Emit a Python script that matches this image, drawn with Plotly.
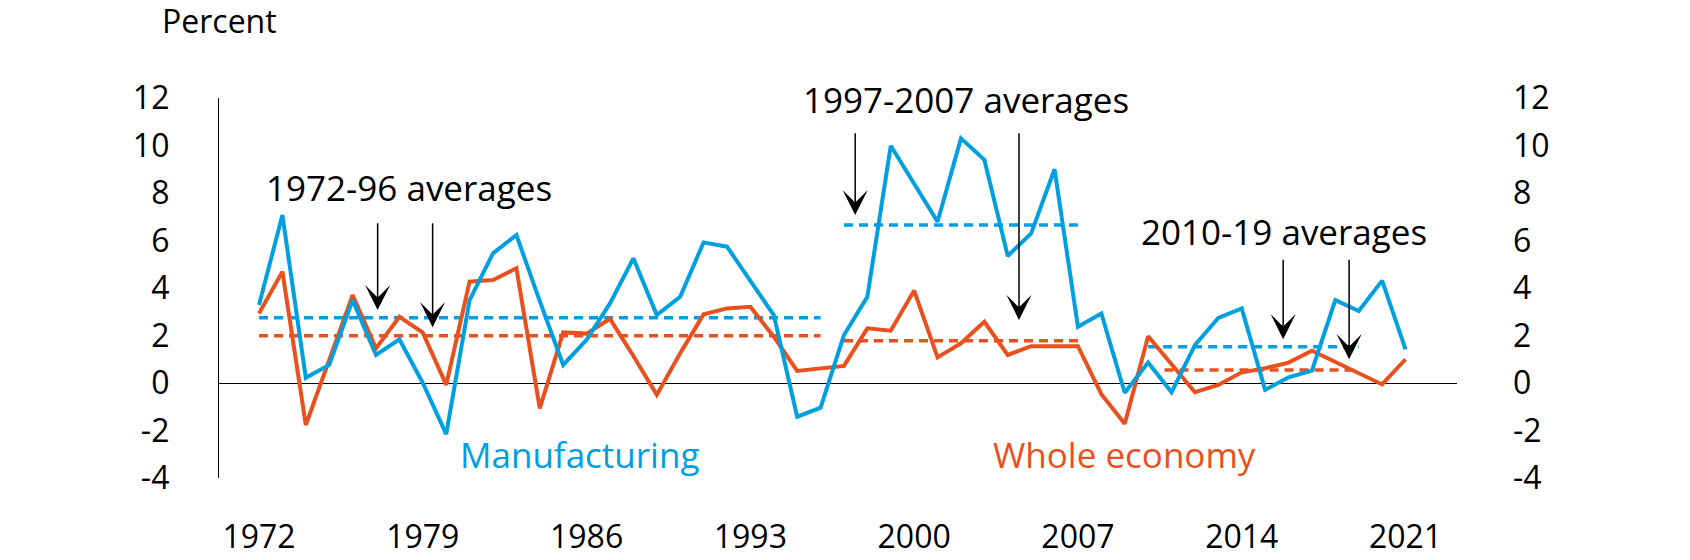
import plotly.graph_objects as go

years = list(range(1972, 2022))
manufacturing = [3.28, 7.07, 0.22, 0.76, 3.49, 1.18, 1.84, 0.0, -2.15, 3.49,
                 5.46, 6.23, 3.45, 0.76, 1.82, 3.35, 5.25, 2.86, 3.63, 5.92,
                 5.74, 4.3, 2.86, -1.42, -1.04, 2.02, 3.63, 9.99, 8.39, 6.79,
                 10.3, 9.4, 5.35, 6.3, 9.0, 2.37, 2.93, -0.41, 0.86, -0.39,
                 1.6, 2.74, 3.14, -0.29, 0.24, 0.52, 3.49, 3.03, 4.31, 1.42]
whole_economy = [2.93, 4.69, -1.77, 1.0, 3.7, 1.46, 2.79, 2.12, -0.08, 4.27,
                 4.34, 4.83, -1.07, 2.13, 2.08, 2.7, 1.14, -0.5, 1.25, 2.89,
                 3.14, 3.21, 1.95, 0.51, 0.62, 0.72, 2.3, 2.2, 3.89, 1.08,
                 1.67, 2.58, 1.18, 1.55, 1.55, 1.55, -0.47, -1.72, 1.97, 0.76,
                 -0.39, -0.08, 0.45, 0.62, 0.86, 1.36, 0.9, 0.43, -0.06, 1.0]

# period averages: (start, end, value)
manuf_avgs = [(1972, 1996, 2.75), (1997, 2007, 6.65), (2010, 2019, 1.53)]
whole_avgs = [(1972, 1996, 1.99), (1997, 2007, 1.78), (2010.7, 2019, 0.55)]

avg_labels = ["1972-96 averages", "1997-2007 averages", "2010-19 averages"]
avg_label_pos = [(1978.4, 8.25), (2002.2, 11.95), (2015.8, 6.37)]
# arrows: (x, tip_y, tail_y)
arrows = [(1977.07, 3.07, 6.79), (1979.42, 2.35, 6.79),
          (1997.48, 7.07, 10.58), (2004.48, 2.65, 10.58),
          (2015.77, 1.84, 5.25), (2018.59, 1.0, 5.25)]

series_labels = [("Manufacturing", 1985.7, -3.0), ("Whole economy", 2009.0, -3.0)]

x_ticks = [1972, 1979, 1986, 1993, 2000, 2007, 2014, 2021]
y_ticks = [-4, -2, 0, 2, 4, 6, 8, 10, 12]
y_tick_text = ["-4", "-2", "0", "2", "4", "6", "8", "10", "12"]

BLUE = "#009FDF"
RED = "#E8501E"
FONT = "Open Sans"

fig = go.Figure()

for (s, e, v) in manuf_avgs:
    fig.add_trace(go.Scatter(x=[s, e], y=[v, v], mode="lines",
                             line=dict(color=BLUE, width=3.5, dash="9px,6px"),
                             showlegend=False, hoverinfo="skip"))
for (s, e, v) in whole_avgs:
    fig.add_trace(go.Scatter(x=[s, e], y=[v, v], mode="lines",
                             line=dict(color=RED, width=3.5, dash="9px,6px"),
                             showlegend=False, hoverinfo="skip"))

fig.add_trace(go.Scatter(x=years, y=whole_economy, mode="lines",
                         line=dict(color=RED, width=4), name="Whole economy",
                         showlegend=False))
fig.add_trace(go.Scatter(x=years, y=manufacturing, mode="lines",
                         line=dict(color=BLUE, width=4), name="Manufacturing",
                         showlegend=False))
# invisible trace to anchor the right axis
fig.add_trace(go.Scatter(x=years, y=manufacturing, mode="markers", yaxis="y2",
                         marker=dict(opacity=0), showlegend=False, hoverinfo="skip"))

annotations = []
for txt, (x, y) in zip(avg_labels, avg_label_pos):
    annotations.append(dict(x=x, y=y, xref="x", yref="y", text=txt, showarrow=False,
                            xanchor="center", yanchor="middle",
                            font=dict(family=FONT, size=35, color="black")))
for (x, tip, tail) in arrows:
    annotations.append(dict(x=x, y=tip, ax=x, ay=tail, xref="x", yref="y",
                            axref="x", ayref="y", text="", showarrow=True,
                            arrowhead=3, arrowsize=2.8, arrowwidth=1.5,
                            arrowcolor="black", standoff=0))
for (txt, x, y), col in zip(series_labels, [BLUE, RED]):
    annotations.append(dict(x=x, y=y, xref="x", yref="y", text=txt, showarrow=False,
                            xanchor="center", yanchor="middle",
                            font=dict(family=FONT, size=35, color=col)))
annotations.append(dict(x=0, y=1.205, xref="paper", yref="paper", text="Percent",
                        showarrow=False, xanchor="center", yanchor="middle",
                        font=dict(family=FONT, size=32, color="black")))

fig.update_layout(
    width=1690, height=560,
    margin=dict(l=219, r=233, t=98, b=82),
    paper_bgcolor="white", plot_bgcolor="white",
    font=dict(family=FONT, size=32, color="black"),
    annotations=annotations,
    xaxis=dict(range=[1970.29, 2023.2], tickvals=x_ticks, showgrid=False,
               zeroline=False, showline=False, ticks="", ticklabelstandoff=37,
               automargin=False,
               tickfont=dict(family=FONT, size=32, color="black")),
    yaxis=dict(range=[-4, 12], tickvals=y_ticks, ticktext=y_tick_text, showgrid=False,
               zeroline=True, zerolinecolor="black", zerolinewidth=1.3,
               showline=True, linecolor="black", linewidth=1.3, ticks="",
               ticklabelstandoff=42, automargin=False,
               tickfont=dict(family=FONT, size=32, color="black")),
    yaxis2=dict(range=[-4, 12], tickvals=y_ticks, ticktext=y_tick_text, overlaying="y",
                side="right", showgrid=False, zeroline=False, showline=False, ticks="",
                ticklabelstandoff=55, automargin=False,
                tickfont=dict(family=FONT, size=32, color="black")),
)

fig.write_html("out.html")
